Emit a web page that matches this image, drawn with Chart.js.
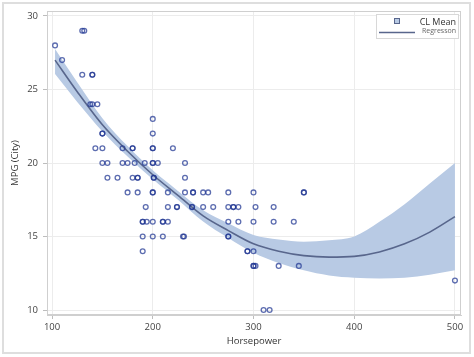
<!DOCTYPE html>
<html>
<head>
    <title>MPG vs Horsepower</title>
    <style>
        body { margin: 0; background: #fff; }
        canvas { display: block; }
    </style>
    <script src="https://cdn.jsdelivr.net/npm/chart.js"></script>
</head>
<body>
    <canvas id="myChart" width="474" height="357"></canvas>
    <script>
        // observaciones
        var horsepower = [103, 110, 130, 132, 130, 140, 140, 138, 140, 145, 150, 150, 143, 150,
            150, 155, 155, 165, 170, 180, 180, 170, 175, 182, 192, 200, 200, 205, 232,
            180, 185, 185, 200, 200, 200, 200, 220, 201, 201, 232,
            175, 185, 200, 200, 215, 232, 240, 240, 250, 255, 275, 300, 350, 350,
            193, 215, 224, 224, 239, 239, 250, 260, 275, 280, 280, 285, 302, 320,
            190, 190, 194, 200, 210, 210, 215, 275, 285, 300, 320, 340,
            190, 200, 210, 230, 231, 275, 275,
            190, 294, 294, 300,
            300, 300, 302, 325, 345,
            500, 310, 316];
        var mpgCity = [28, 27, 29, 29, 26, 26, 26, 24, 24, 24, 22, 22, 21, 21,
            20, 20, 19, 19, 21, 21, 21, 20, 20, 20, 20, 20, 20, 20, 20,
            19, 19, 19, 23, 22, 21, 21, 21, 19, 19, 19,
            18, 18, 18, 18, 18, 18, 18, 18, 18, 18, 18, 18, 18, 18,
            17, 17, 17, 17, 17, 17, 17, 17, 17, 17, 17, 17, 17, 17,
            16, 16, 16, 16, 16, 16, 16, 16, 16, 16, 16, 16,
            15, 15, 15, 15, 15, 15, 15,
            14, 14, 14, 14,
            13, 13, 13, 13, 13,
            12, 10, 10];

        // curva de regresión y límites de confianza de la media
        var curveHp = [103, 125, 150, 175, 200, 225, 250, 275, 300, 325, 350, 375, 400, 425, 450, 475, 500];
        var curveMpg = [27.0, 24.85, 22.6, 20.8, 19.2, 17.8, 16.4, 15.4, 14.5, 14.0, 13.7, 13.6, 13.65, 13.95, 14.5, 15.3, 16.35];
        var upperCl = [27.75, 25.5, 23.05, 21.15, 19.5, 18.1, 16.78, 15.9, 15.1, 14.8, 14.65, 14.75, 15.0, 16.0, 17.2, 18.6, 20.0];
        var lowerCl = [26.05, 24.15, 22.15, 20.45, 18.9, 17.5, 16.02, 14.9, 13.9, 13.2, 12.7, 12.35, 12.2, 12.15, 12.2, 12.4, 12.7];

        var xTicks = [100, 200, 300, 400, 500];
        var yTicks = [10, 15, 20, 25, 30];

        var bandColor = 'rgb(184, 202, 228)';
        var lineColor = 'rgb(88, 102, 140)';
        var pointColor = 'rgba(30, 52, 145, 0.72)';
        var fontFamily = "'Open Sans', sans-serif";

        function toXY(xs, ys) {
            return xs.map((x, i) => ({ x: x, y: ys[i] }));
        }

        // marco exterior, marco del área y leyenda
        var framePlugin = {
            id: 'frame',
            afterDraw(chart) {
                var ctx = chart.ctx;
                var a = chart.chartArea;
                ctx.save();
                ctx.strokeStyle = '#dedede';
                ctx.lineWidth = 2;
                ctx.strokeRect(3, 3, 467, 350);
                ctx.strokeStyle = '#cfcfcf';
                ctx.lineWidth = 1;
                ctx.strokeRect(a.left + 0.5, a.top + 0.5, a.right - a.left - 1, a.bottom - a.top - 1);

                // leyenda
                var lx = a.right - 85, ly = a.top + 3;
                ctx.fillStyle = '#fff';
                ctx.fillRect(lx, ly, 82, 24);
                ctx.strokeStyle = '#d8d8d8';
                ctx.strokeRect(lx + 0.5, ly + 0.5, 82, 24);
                ctx.fillStyle = bandColor;
                ctx.fillRect(lx + 18, ly + 4, 5, 5);
                ctx.strokeStyle = lineColor;
                ctx.strokeRect(lx + 18.5, ly + 4.5, 5, 5);
                ctx.beginPath();
                ctx.moveTo(lx + 3, ly + 18.5);
                ctx.lineTo(lx + 39, ly + 18.5);
                ctx.lineWidth = 1.5;
                ctx.stroke();
                ctx.fillStyle = '#333';
                ctx.textAlign = 'right';
                ctx.textBaseline = 'middle';
                ctx.font = "9px " + fontFamily;
                ctx.fillText('CL Mean', lx + 80, ly + 8);
                ctx.fillStyle = '#666';
                ctx.font = "7px " + fontFamily;
                ctx.fillText('Regresson', lx + 80, ly + 17);
                ctx.restore();
            }
        };

        var ctx = document.getElementById('myChart').getContext('2d');
        var myChart = new Chart(ctx, {
            type: 'scatter',
            data: {
                datasets: [{
                    label: 'lower',
                    type: 'line',
                    data: toXY(curveHp, lowerCl),
                    borderWidth: 0,
                    pointRadius: 0,
                    cubicInterpolationMode: 'monotone',
                    fill: false,
                    order: 3
                },
                {
                    label: 'CL Mean',
                    type: 'line',
                    data: toXY(curveHp, upperCl),
                    borderWidth: 0,
                    pointRadius: 0,
                    cubicInterpolationMode: 'monotone',
                    backgroundColor: bandColor,
                    fill: '-1',
                    order: 3
                },
                {
                    label: 'Regresson',
                    type: 'line',
                    data: toXY(curveHp, curveMpg),
                    borderColor: lineColor,
                    borderWidth: 1.6,
                    pointRadius: 0,
                    cubicInterpolationMode: 'monotone',
                    fill: false,
                    order: 2
                },
                {
                    label: 'MPG (City)',
                    data: toXY(horsepower, mpgCity),
                    pointStyle: 'circle',
                    pointRadius: 2.4,
                    pointBorderWidth: 1.3,
                    borderColor: pointColor,
                    backgroundColor: 'rgba(0,0,0,0)',
                    order: 1
                }]
            },
            plugins: [framePlugin],
            options: {
                responsive: false,
                animation: false,
                events: [],
                layout: { padding: { left: 0, top: 11, right: 13, bottom: 0 } },
                plugins: {
                    legend: { display: false },
                    tooltip: { enabled: false }
                },
                scales: {
                    x: {
                        type: 'linear',
                        min: 95,
                        max: 506,
                        afterBuildTicks: scale => { scale.ticks = xTicks.map(v => ({ value: v })); },
                        afterFit: scale => { scale.height = 42; },
                        grid: { color: '#ececec', tickColor: '#bdbdbd', tickLength: 4 },
                        border: { color: '#cfcfcf' },
                        ticks: { color: '#444', padding: 3, maxRotation: 0, font: { family: fontFamily, size: 9.5 } },
                        title: {
                            display: true,
                            text: 'Horsepower',
                            color: '#333',
                            padding: { top: 0, bottom: 10 },
                            font: { family: fontFamily, size: 9.5 }
                        }
                    },
                    y: {
                        min: 9.66,
                        max: 30.34,
                        afterBuildTicks: scale => { scale.ticks = yTicks.map(v => ({ value: v })); },
                        afterFit: scale => { scale.width = 47; },
                        grid: { color: '#ececec', tickColor: '#bdbdbd', tickLength: 4 },
                        border: { color: '#cfcfcf' },
                        ticks: { color: '#444', padding: 5, font: { family: fontFamily, size: 9.5 } },
                        title: {
                            display: true,
                            text: 'MPG (City)',
                            color: '#333',
                            padding: { top: 10, bottom: 0 },
                            font: { family: fontFamily, size: 9.5 }
                        }
                    }
                }
            }
        });
    </script>
</body>
</html>
